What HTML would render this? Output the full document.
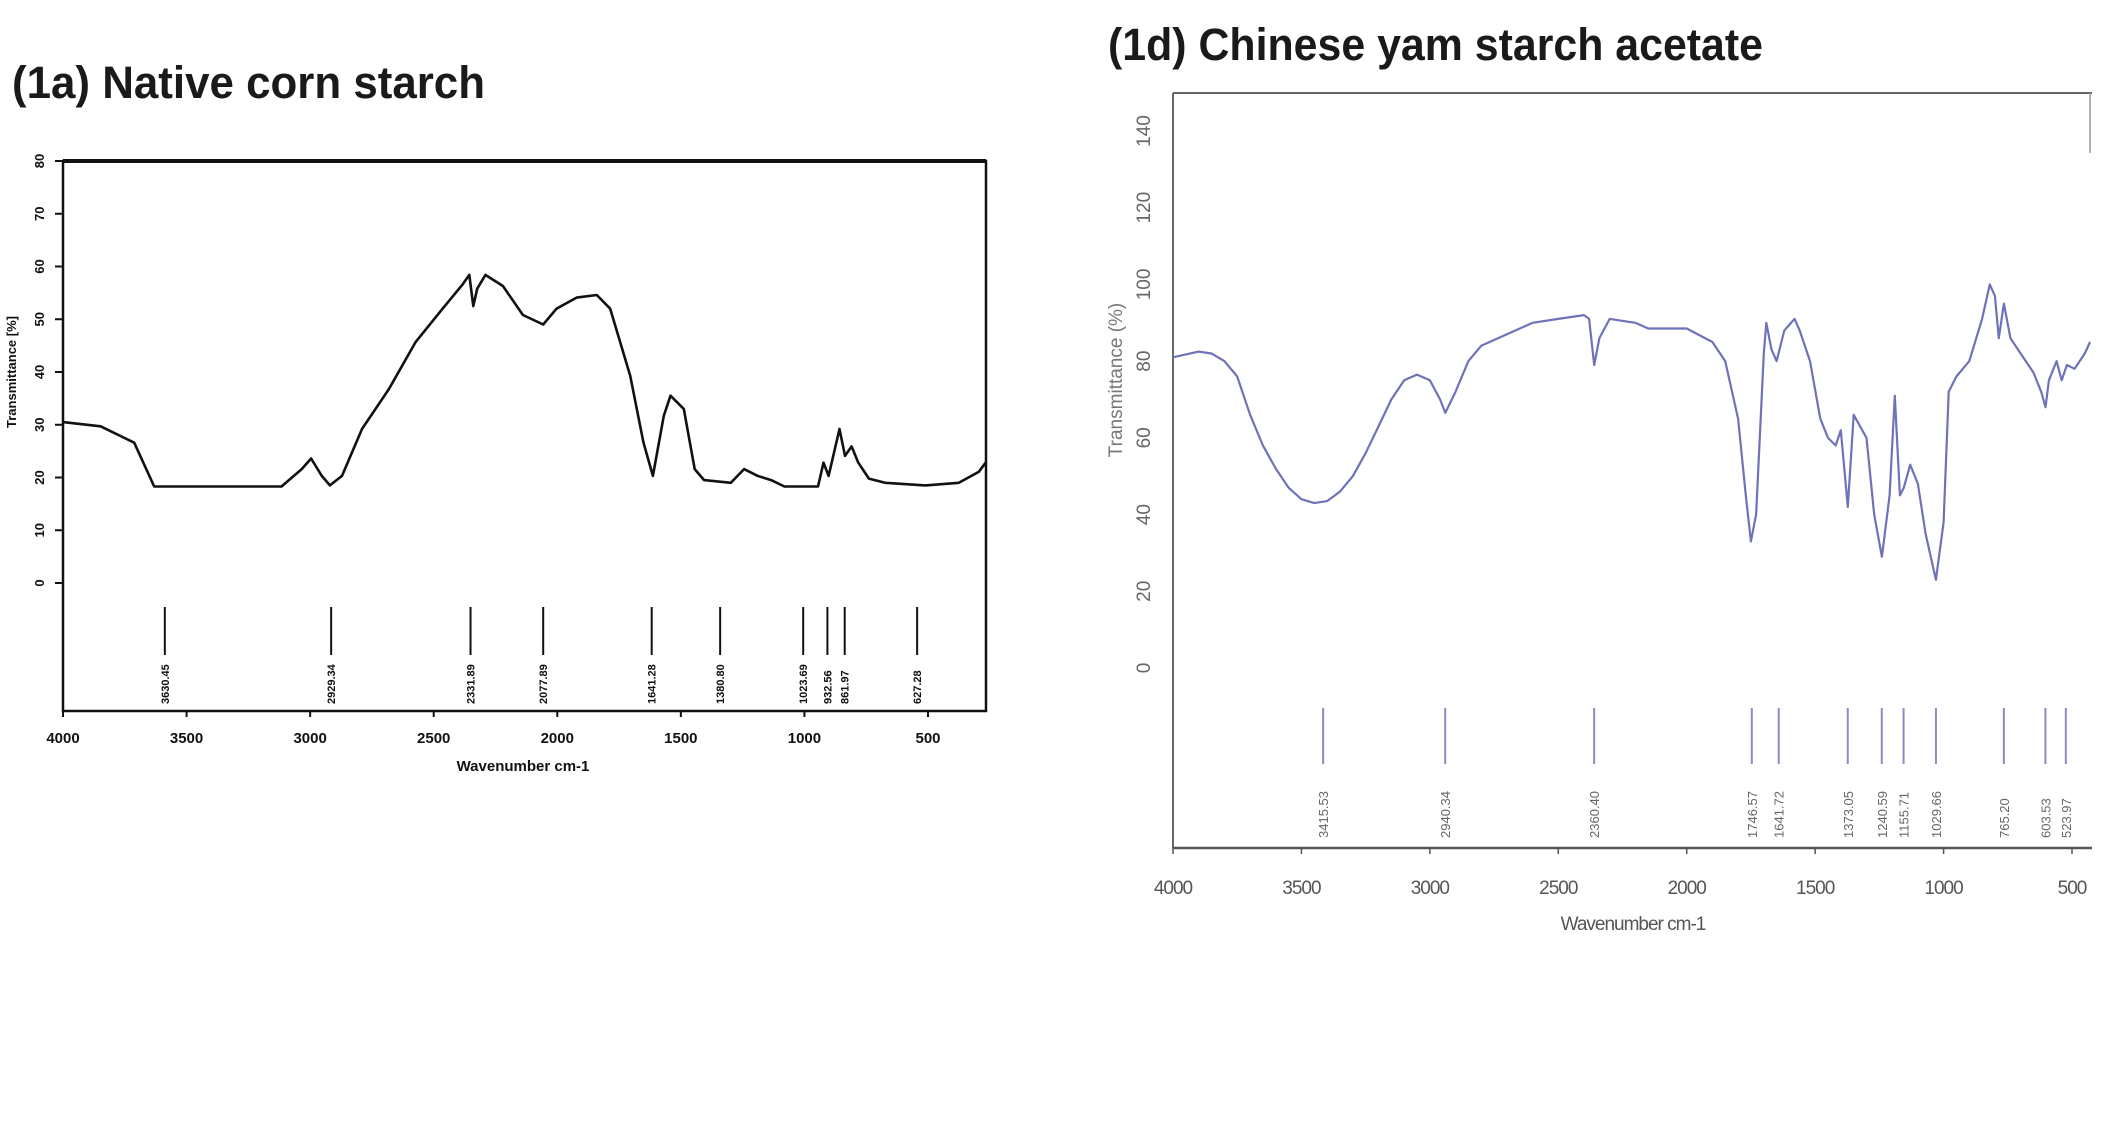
<!DOCTYPE html>
<html><head><meta charset="utf-8"><style>
html,body{margin:0;padding:0;background:#fff;}
svg{display:block;}
text{font-family:"Liberation Sans",sans-serif;}
</style></head><body>
<svg id="fig" width="2103" height="1133" viewBox="0 0 2103 1133" xmlns="http://www.w3.org/2000/svg">
<text x="12" y="98" font-size="45" font-weight="bold" fill="#1a1a1a" textLength="473" lengthAdjust="spacingAndGlyphs">(1a)  Native corn starch</text>
<text x="1108" y="60" font-size="45" font-weight="bold" fill="#1a1a1a" textLength="655" lengthAdjust="spacingAndGlyphs">(1d) Chinese yam starch acetate</text>
<g id="chartA"></g>
<g id="chartD"></g>
</svg>
<script>
// ---- Chart 1a data ----
const aWave = [4000,3848,3712,3631,3116,3034,2996,2953,2920,2871,2790,2681,2573,2464,2383,2356,2340,2324,2291,2220,2139,2057,2003,1922,1840,1786,1705,1651,1613,1569,1542,1488,1444,1406,1298,1244,1189,1135,1081,945,923,902,858,836,809,782,739,674,511,375,294,267];
const aTrans = [30.5,29.7,26.6,18.3,18.3,21.6,23.6,20.3,18.5,20.3,29.2,36.8,45.7,52,56.6,58.4,52.5,55.8,58.4,56.3,50.8,49,52,54.1,54.6,52,39.3,26.6,20.3,31.7,35.5,33,21.6,19.5,19,21.6,20.3,19.5,18.3,18.3,22.8,20.3,29.2,24.1,25.9,22.8,19.8,19,18.5,19,21.1,22.8];
const aYTicks = [0,10,20,30,40,50,60,70,80];
const aXTicks = [4000,3500,3000,2500,2000,1500,1000,500];
const aXTickLabels = ["4000","3500","3000","2500","2000","1500","1000","500"];
const aPeakPos = [3588,2915,2351,2057,1618,1341,1005,907,837,544];
const aPeakLabels = ["3630.45","2929.34","2331.89","2077.89","1641.28","1380.80","1023.69","932.56","861.97","627.28"];
// ---- Chart 1d data ----
const dWave = [4000,3900,3850,3800,3750,3700,3650,3600,3550,3500,3450,3400,3350,3300,3250,3200,3150,3100,3050,3000,2960,2940,2900,2850,2800,2700,2600,2500,2400,2380,2360,2340,2300,2200,2150,2000,1900,1850,1800,1770,1750,1730,1700,1690,1670,1650,1620,1580,1560,1520,1480,1450,1420,1400,1373,1350,1300,1270,1240,1210,1190,1170,1155,1130,1100,1070,1030,1000,980,950,900,850,820,800,785,765,740,700,650,620,603,590,560,540,520,490,450,430];
const dTrans = [81,82.5,82,80,76,66,58,52,47,44,43,43.5,46,50,56,63,70,75,76.5,75,70,66.5,72,80,84,87,90,91,92,91,79,86,91,90,88.5,88.5,85,80,65,45,33,40,82,90,83,80,88,91,88,80,65,60,58,62,42,66,60,40,29,45,71,45,47,53,48,35,23,38,72,76,80,91,100,97,86,95,86,82,77,72,68,75,80,75,79,78,82,85];
const dYTicks = [0,20,40,60,80,100,120,140];
const dXTicks = [4000,3500,3000,2500,2000,1500,1000,500];
const dXTickLabels = ["4000","3500","3000","2500","2000","1500","1000","500"];
const dPeakPos = [3415.53,2940.34,2360.40,1746.57,1641.72,1373.05,1240.59,1155.71,1029.66,765.20,603.53,523.97];
const dPeakLabels = ["3415.53","2940.34","2360.40","1746.57","1641.72","1373.05","1240.59","1155.71","1029.66","765.20","603.53","523.97"];

const NS = "http://www.w3.org/2000/svg";
function mk(parent, tag, attrs, txt){
  const e = document.createElementNS(NS, tag);
  for (const k in attrs) e.setAttribute(k, attrs[k]);
  if (txt !== undefined) e.textContent = txt;
  parent.appendChild(e);
  return e;
}

// ---------- Chart 1a ----------
(function(){
  const g = document.getElementById('chartA');
  const L=63, R=986, T=161, B=711;
  const xS = w => 63 + (4000 - w) * (865 / 3500);
  const yS = v => 583 - v * (422 / 80);
  const box = mk(g,'rect',{x:L,y:T,width:R-L,height:B-T,fill:'none',stroke:'#111','stroke-width':2.5});
  
  
  mk(g,'line',{x1:L,y1:T,x2:R,y2:T,stroke:'#111','stroke-width':4});
  aYTicks.forEach(v=>{
    const y=yS(v);
    const t=mk(g,'line',{x1:L-8,y1:y,x2:L,y2:y,stroke:'#111','stroke-width':2});
    
    
    const lb=mk(g,'text',{x:0,y:0,transform:`translate(44,${y}) rotate(-90)`,'font-size':13,'font-weight':'bold','text-anchor':'middle',fill:'#111'},String(v));
    
    
  });
  const yt=mk(g,'text',{x:0,y:0,transform:'translate(16,372) rotate(-90)','font-size':13,'font-weight':'bold','text-anchor':'middle',fill:'#111'},'Transmittance [%]');
  
  
  aXTicks.forEach((w,i)=>{
    const x=xS(w);
    mk(g,'line',{x1:x,y1:B,x2:x,y2:B+6,stroke:'#111','stroke-width':2});
    const lb=mk(g,'text',{x:x,y:743,'font-size':15,'font-weight':'bold','text-anchor':'middle',fill:'#111'},aXTickLabels[i]);
    
    
  });
  const xt=mk(g,'text',{x:523,y:771,'font-size':15,'font-weight':'bold','text-anchor':'middle',fill:'#111'},'Wavenumber cm-1');
  
  
  let d='';
  aWave.forEach((w,i)=>{ d += (i?'L':'M') + xS(w).toFixed(1) + ' ' + yS(aTrans[i]).toFixed(1) + ' '; });
  const p=mk(g,'path',{d:d,fill:'none',stroke:'#111','stroke-width':2.6,'stroke-linejoin':'round'});
  
  
  aPeakPos.forEach((w,i)=>{
    const x=xS(w);
    const ln=mk(g,'line',{x1:x,y1:607,x2:x,y2:655,stroke:'#111','stroke-width':2});
    
    
    const lb=mk(g,'text',{x:0,y:0,transform:`translate(${x+4},704) rotate(-90)`,'font-size':11,'font-weight':'bold',fill:'#111'},aPeakLabels[i]);
    
    
  });
})();

// ---------- Chart 1d ----------
(function(){
  const g = document.getElementById('chartD');
  const L=1173, R=2092, T=93, B=848;
  const xS = w => 1173 + (4000 - w) * (899 / 3500);
  const yS = v => 668 - v * (537 / 140);
  const col='#666';
  const top=mk(g,'line',{x1:L,y1:T,x2:R,y2:T,stroke:col,'stroke-width':2});
  
  
  const la=mk(g,'line',{x1:L,y1:T,x2:L,y2:B,stroke:col,'stroke-width':2});
  
  
  const ba=mk(g,'line',{x1:L,y1:B,x2:R,y2:B,stroke:'#555','stroke-width':2.5});
  
  
  mk(g,'line',{x1:R-2,y1:T,x2:R-2,y2:T+60,stroke:'#999','stroke-width':1.5});
  dYTicks.forEach(v=>{
    const y=yS(v);
    const lb=mk(g,'text',{x:0,y:0,transform:`translate(1150,${y}) rotate(-90)`,'font-size':19,'text-anchor':'middle',fill:'#666'},String(v));
    
    
  });
  const yt=mk(g,'text',{x:0,y:0,transform:'translate(1122,380) rotate(-90)','font-size':19,'text-anchor':'middle',fill:'#777'},'Transmittance (%)');
  
  
  dXTicks.forEach((w,i)=>{
    const x=xS(w);
    mk(g,'line',{x1:x,y1:B,x2:x,y2:B+6,stroke:'#555','stroke-width':1.5});
    const lb=mk(g,'text',{x:x,y:894,'font-size':19,'text-anchor':'middle',fill:'#555','letter-spacing':'-1'},dXTickLabels[i]);
    
    
  });
  const xt=mk(g,'text',{x:1633,y:930,'font-size':19,'text-anchor':'middle',fill:'#555','letter-spacing':'-1'},'Wavenumber cm-1');
  
  
  let d='';
  dWave.forEach((w,i)=>{ d += (i?'L':'M') + xS(w).toFixed(1) + ' ' + yS(dTrans[i]).toFixed(1) + ' '; });
  const p=mk(g,'path',{d:d,fill:'none',stroke:'#6f72b8','stroke-width':2.2,'stroke-linejoin':'round'});
  
  
  dPeakPos.forEach((w,i)=>{
    const x=xS(w);
    const ln=mk(g,'line',{x1:x,y1:708,x2:x,y2:764,stroke:'#8a8cc4','stroke-width':2});
    
    
    const lb=mk(g,'text',{x:0,y:0,transform:`translate(${x+5},838) rotate(-90)`,'font-size':13,fill:'#666'},dPeakLabels[i]);
    
    
  });
})();
</script>
</body></html>
